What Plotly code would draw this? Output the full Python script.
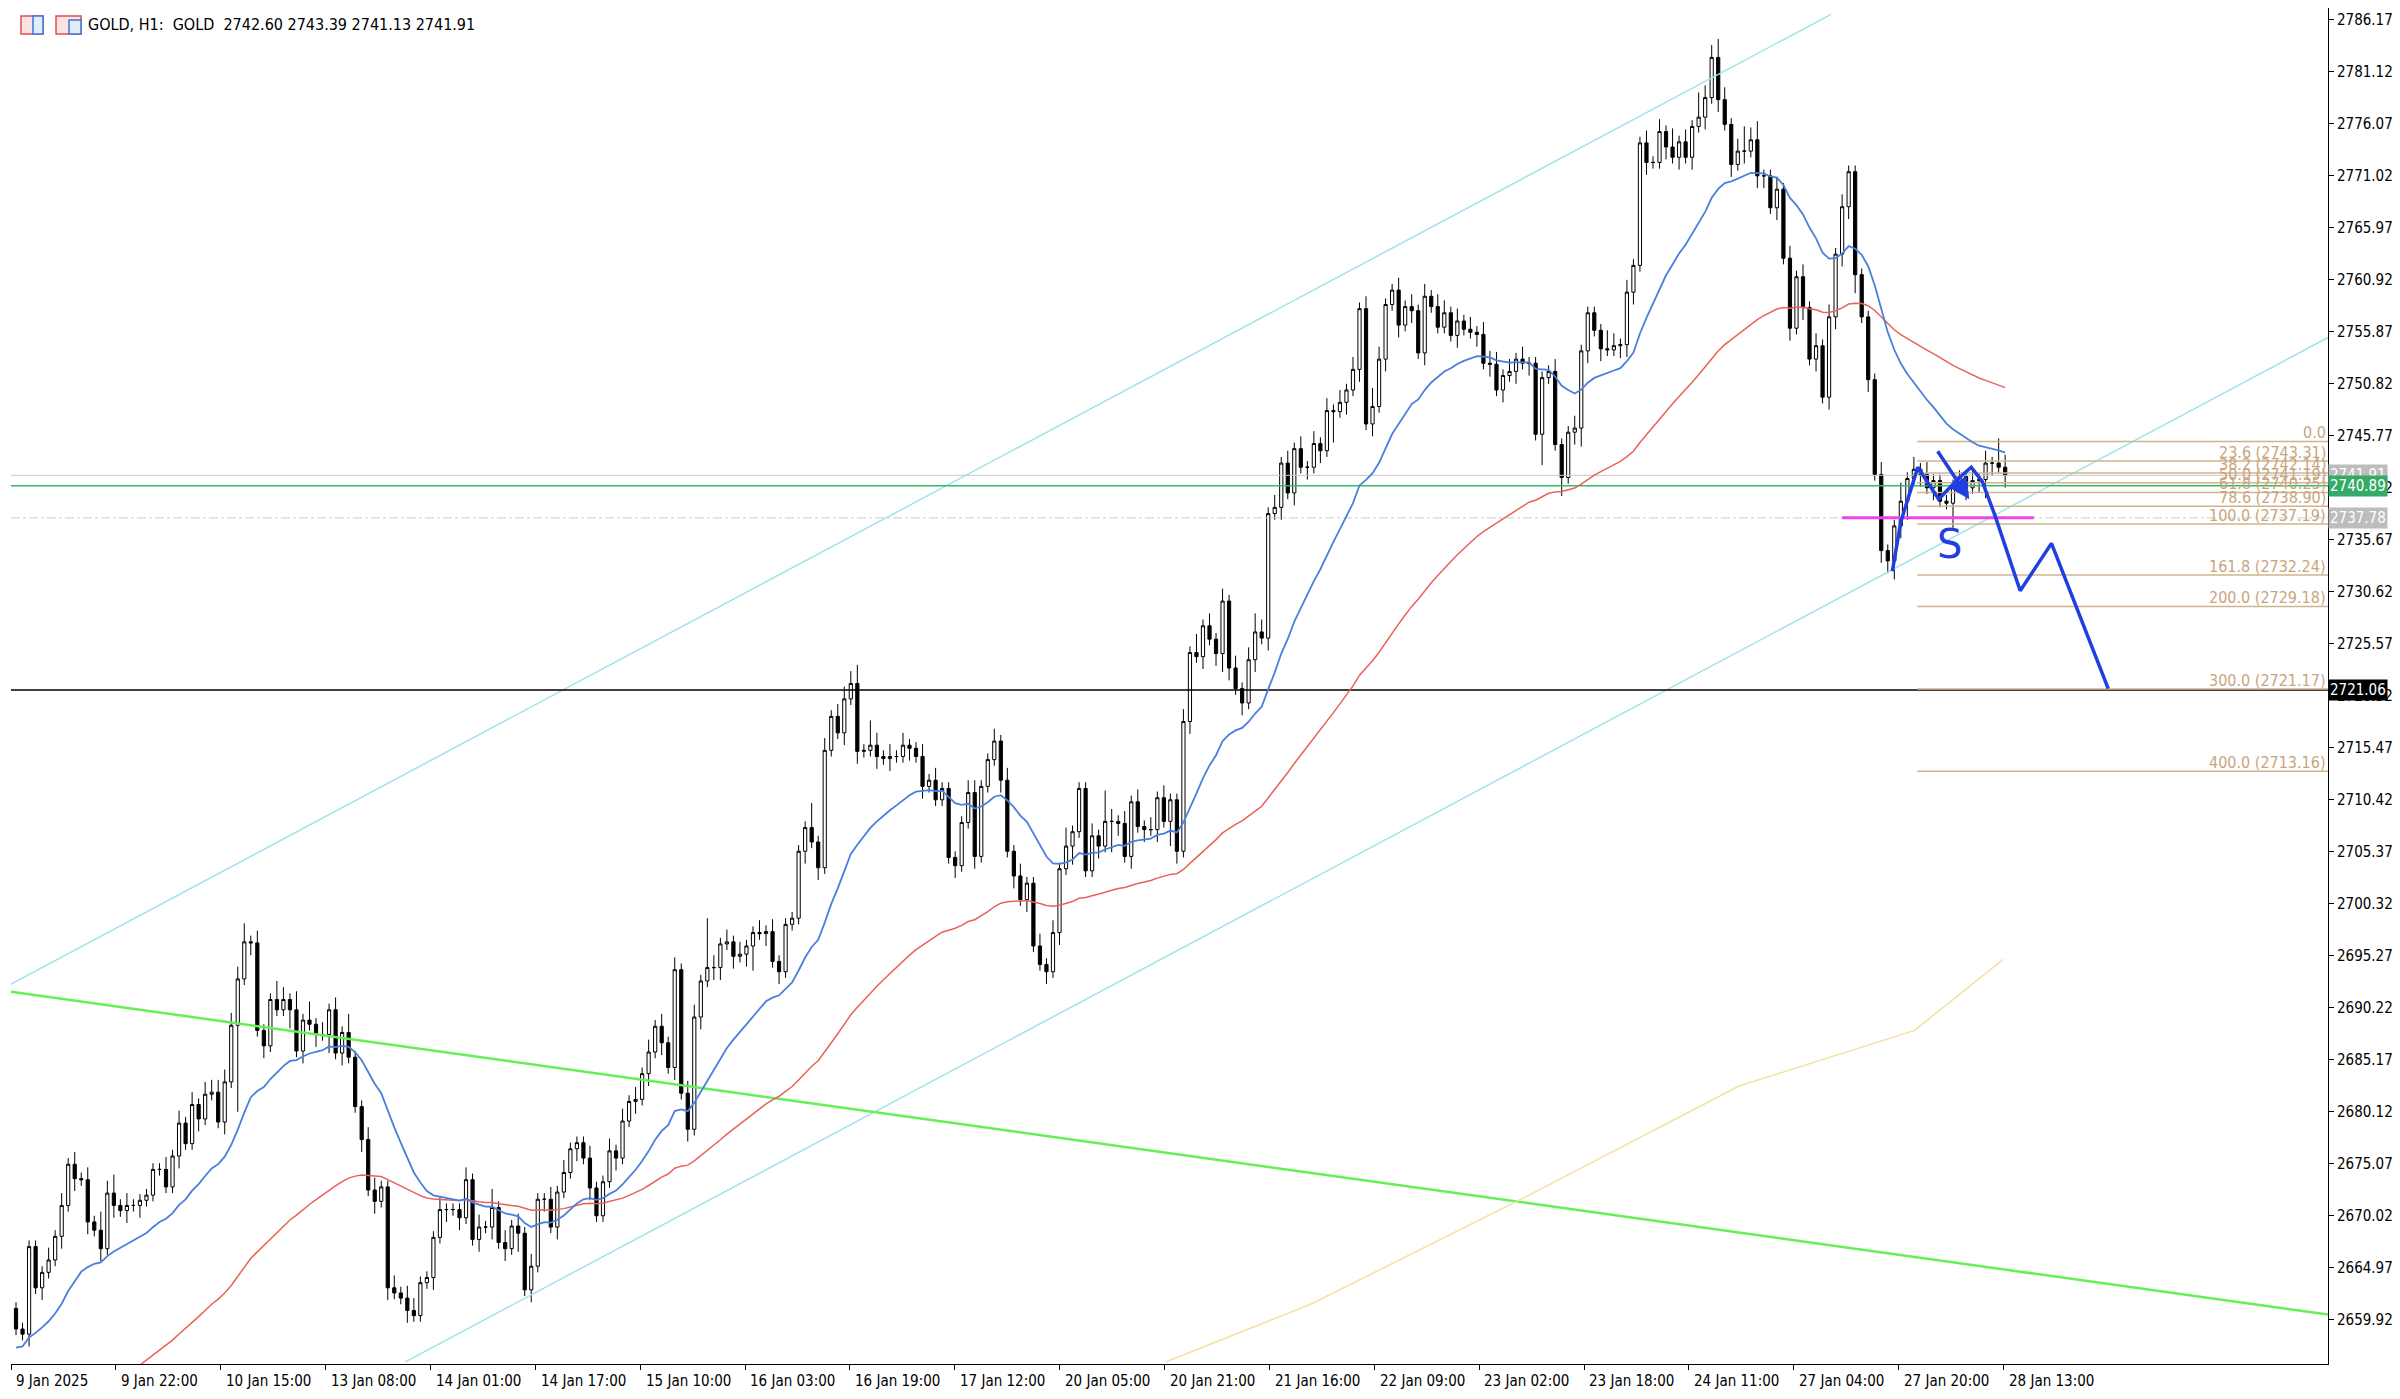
import plotly.graph_objects as go

# ---------------- data ----------------
closes = [
 # 9-13 Jan
 2659, 2658.5, 2667, 2663, 2664.5, 2665.7, 2668, 2671, 2675, 2673.6, 2673.5, 2669.4, 2668.6, 2666.8, 2672.2, 2671,
 2670.5, 2671, 2671, 2671.5, 2672, 2674.5, 2674.5, 2672.8, 2675.8, 2679, 2677, 2680.8, 2679.4, 2681.8, 2682, 2679.1,
 2683, 2688.5, 2693, 2696.6, 2696.5, 2688, 2686.5, 2691, 2690, 2691, 2690, 2686, 2689, 2688.6, 2687.6, 2687.6,
 2690, 2685.8, 2687.8, 2685.4, 2680.6, 2677.4, 2672.5, 2671.4, 2672.8, 2663, 2662.5, 2662, 2660.8, 2660.3, 2663.5, 2664,
 # 13-16 Jan
 2667.9, 2670.6, 2670.6, 2670.6, 2669.8, 2673.5, 2667.7, 2668.9, 2668.9, 2670.8, 2667.4, 2666.8, 2669, 2668.3, 2662.8, 2665.1,
 2671.6, 2671.6, 2668.9, 2672.3, 2674.2, 2676.5, 2677.1, 2675.6, 2672.7, 2670, 2673.3, 2676.3, 2675.6, 2679.2, 2681.1, 2681.3,
 2683.8, 2685.9, 2688.4, 2686.8, 2684.4, 2693.9, 2681.9, 2678.4, 2689.3, 2692.8, 2694.1, 2694.1, 2696.4, 2696.6, 2695.2, 2695.4,
 2696.2, 2697.5, 2697.4, 2697.6, 2694.7, 2693.7, 2698.3, 2698.9, 2705.4, 2707.7, 2706.3, 2703.8,
 # 16-20 Jan
 2715.2, 2718.5, 2716.9, 2720.2, 2721.7, 2715.1, 2715.2, 2715.7, 2714.6, 2714.4, 2714.6, 2714.6, 2715.7, 2715.4, 2714.6, 2711.7,
 2712.3, 2710.4, 2711.5, 2704.8, 2704, 2708.2, 2711.1, 2704.9, 2711.7, 2714.3, 2716.1, 2712.3, 2705.4, 2703, 2700.7, 2702.3,
 2696.2, 2694.4, 2693.7, 2697.5, 2703.7, 2705.9, 2707.3, 2711.5, 2703.5, 2706.9, 2705.9, 2708.3, 2708.3, 2708.1, 2704.9, 2710.2,
 2707.8, 2707.5, 2707.5, 2710.6, 2708.3, 2710.4, 2705.4, 2718, 2724.7, 2724.3, 2727.3, 2726, 2724.6,
 # 21-24 Jan
 2729.7, 2723.2, 2721.2, 2719.8, 2724, 2726.7, 2726.1, 2738.2, 2738.8, 2743.1, 2740.2, 2744.5, 2742.7, 2742.7, 2745, 2744.3,
 2748.2, 2748.1, 2749, 2750.2, 2752.2, 2758.1, 2746.9, 2748.6, 2753.2, 2758.5, 2759.9, 2756.5, 2758.3, 2757.9, 2753.8, 2759.3,
 2758.3, 2756.3, 2757.7, 2755.5, 2756.9, 2756.1, 2755.8, 2755.6, 2752.8, 2752.7, 2750.2, 2751.6, 2752, 2753.2, 2752.8, 2752.8,
 2745.9, 2751.4, 2752, 2744.9, 2741.7, 2746.1, 2746.5, 2754, 2757.7, 2756, 2754.2, 2754.1, 2754.5, 2754.6, 2759.7,
 # 24-28 Jan
 2762.3, 2774.2, 2772.3, 2772.3, 2775.3, 2773.8, 2772.8, 2774.3, 2772.8, 2775.8, 2776.7, 2778.6, 2782.5, 2778.4, 2776, 2772.1,
 2773.4, 2773.4, 2774.5, 2771, 2771, 2767.9, 2769.7, 2763, 2756.2, 2761.2, 2758.2, 2753.2, 2754.5, 2749.5, 2757.3, 2763.4,
 2768, 2771.4, 2761.4, 2757.3, 2751.2, 2742, 2734.6, 2733.6, 2737, 2739.4, 2741.6, 2742.5, 2742, 2740.7, 2741.4, 2739.4,
 2739.2, 2740.9, 2741.8, 2740.7, 2741.4, 2741.5, 2743.1, 2743.1, 2742.7, 2741.91,
]
first_open = 2661.0
# wick lengths in dollars, one base-36 digit per bar (upper / lower)
wick_up = ("1111121212121323121111121212122222231211321313121213112211212211"
           "121112121312121211212111211212121212121221821212112121111141212"
           "223142121211212111122112121211212131112152121212121121312121212"
           "321212121212121212321121212122121212221212111121121111321211212"
           "131214223212423112121212121211111211312121111112121421332121")
wick_dn = ("1121211212121212121211111211211121e121211131212131211212121121112"
           "121211212121312121211212111211212121212121221212412121112121112"
           "121121211212111121121112121211212131112152121212142121212321212"
           "121212121215121212121212121111211212121212151131232121122212112"
           "121212121212122121212121222231212232312121141212321212124121")

yellow_bars = [176.3, 198.5, 231.4, 264.2, 291.1, 304.7]
yellow_vals = [2655.8, 2661.4, 2671.8, 2682.6, 2688.0, 2694.9]

fib_pct = [0.0, 23.6, 38.2, 50.0, 61.8, 78.6, 100.0, 161.8, 200.0, 300.0, 400.0]
fib_top, fib_bottom = 2745.20, 2737.19

draw_bars = [287.7, 289.0, 291.6, 294.8, 298.0, 299.8, 301.5, 303.5, 307.3, 312.1, 320.8]
draw_vals = [2732.6, 2737.4, 2742.7, 2739.6, 2741.7, 2742.7, 2741.3, 2737.9, 2730.7, 2735.3, 2721.2]
arrow_bars = [294.5, 299.5]
arrow_vals = [2744.4, 2739.6]

tick_labels = ["9 Jan 2025", "9 Jan 22:00", "10 Jan 15:00", "13 Jan 08:00", "14 Jan 01:00", "14 Jan 17:00",
               "15 Jan 10:00", "16 Jan 03:00", "16 Jan 19:00", "17 Jan 12:00", "20 Jan 05:00", "20 Jan 21:00",
               "21 Jan 16:00", "22 Jan 09:00", "23 Jan 02:00", "23 Jan 18:00", "24 Jan 11:00", "27 Jan 04:00",
               "27 Jan 20:00", "28 Jan 13:00"]
y_ticks = [2786.17, 2781.12, 2776.07, 2771.02, 2765.97, 2760.92, 2755.87, 2750.82, 2745.77, 2740.72, 2735.67,
           2730.62, 2725.57, 2720.52, 2715.47, 2710.42, 2705.37, 2700.32, 2695.27, 2690.22, 2685.17, 2680.12,
           2675.07, 2670.02, 2664.97, 2659.92]

# ---------------- build ----------------
n = len(closes)
opens = [first_open] + closes[:-1]
def digits(s, i):
    return int(s[i], 36) if i < len(s) else 1
highs = [max(o, c) + 0.6 * digits(wick_up, i) for i, (o, c) in enumerate(zip(opens, closes))]
lows = [min(o, c) - 0.6 * digits(wick_dn, i) for i, (o, c) in enumerate(zip(opens, closes))]
x = list(range(n))

def ema(vals, period, seed):
    a = 2 / (period + 1); e = seed; out = []
    for v in vals:
        e += a * (v - e); out.append(e)
    return out
blue_ma = ema(closes, 21, 2657)
red_ma = ema(closes, 70, 2645)

X0, X1 = -0.77, 354.5
Y0, Y1 = 2655.6, 2787.3

fig = go.Figure()
line_of = lambda xs, ys, col, w, dash="solid": go.Scatter(x=xs, y=ys, mode="lines",
                    line=dict(color=col, width=w, dash=dash), hoverinfo="skip", showlegend=False)
slope = 0.3375
fig.add_trace(line_of([X0, 278.3], [2692.5, 2692.5 + slope * (278.3 - X0)], "#9fe3ea", 1.5))
fig.add_trace(line_of([59.7, X1], [2655.8, 2655.8 + slope * (X1 - 59.7)], "#9fe3ea", 1.5))
fig.add_trace(line_of([X0, X1], [2691.75, 2660.4], "#66ee55", 2.5))
fig.add_trace(line_of([X0, X1], [2721.06, 2721.06], "#000000", 1.5))
fig.add_trace(line_of([X0, X1], [2741.91, 2741.91], "#c8c8c8", 1))
fig.add_trace(line_of([X0, X1], [2740.89, 2740.89], "#33bb66", 1.5))
fig.add_trace(line_of([X0, X1], [2737.78, 2737.78], "#cccccc", 1, "dashdot"))
for p in fib_pct:
    v = fib_top - (fib_top - fib_bottom) * p / 100
    fig.add_trace(line_of([291.5, X1], [v, v], "#d2b48c", 1.5))
    txt = "0.0" if p == 0 else f"{p:.1f} ({v:.2f})"
    fig.add_annotation(x=X1, y=v, text=txt, xanchor="right", yanchor="bottom", showarrow=False,
                       font=dict(size=16, color="#c8a57e", family="DejaVu Sans Condensed"), yshift=-3)
fig.add_trace(line_of(yellow_bars, yellow_vals, "#f3e1a0", 1.5))
fig.add_trace(line_of(x, red_ma, "#e8625a", 1.5))
fig.add_trace(line_of(x, blue_ma, "#4a7fdc", 1.8))
fig.add_trace(go.Candlestick(x=x, open=opens, high=highs, low=lows, close=closes,
    increasing=dict(line=dict(color="#000000", width=1), fillcolor="#ffffff"),
    decreasing=dict(line=dict(color="#000000", width=1), fillcolor="#000000"),
    whiskerwidth=0, showlegend=False, hoverinfo="skip"))
fig.add_trace(line_of([280, 309.4], [2737.8, 2737.8], "#ee44ee", 3))
fig.add_trace(line_of(draw_bars, draw_vals, "#1f3fe0", 3.5))
fig.add_annotation(x=arrow_bars[1], y=arrow_vals[1], ax=arrow_bars[0], ay=arrow_vals[0], xref="x", yref="y",
                   axref="x", ayref="y", showarrow=True, arrowhead=2, arrowsize=1.2, arrowwidth=3.5,
                   arrowcolor="#1f3fe0", text="")
fig.add_annotation(x=296.5, y=2735.2, text="S", showarrow=False,
                   font=dict(size=40, color="#1f3fe0", family="DejaVu Sans"))

for v, bg, fg in [(2741.91, "#bdbdbd", "#ffffff"), (2740.89, "#33aa66", "#ffffff"),
                  (2737.78, "#bdbdbd", "#ffffff"), (2721.06, "#000000", "#ffffff")]:
    fig.add_annotation(x=1.0, xref="paper", y=v, text=f"{v:.2f}", xanchor="left", showarrow=False,
                       bgcolor=bg, font=dict(size=15, color=fg, family="DejaVu Sans Condensed"), borderpad=1)
for k, t in enumerate(tick_labels):
    fig.add_annotation(x=(105 * k - 5) / 6.53 + 0.5, y=0, yref="paper", text=t, xanchor="left", yanchor="top",
                       yshift=-6, showarrow=False,
                       font=dict(size=15, color="#000000", family="DejaVu Sans Condensed"))
fig.add_annotation(x=75 / 2317, xref="paper", y=1, yref="paper", xanchor="left", yanchor="top", yshift=-5,
                   text="GOLD, H1:  GOLD  2742.60 2743.39 2741.13 2741.91", showarrow=False,
                   font=dict(size=16, color="#000000", family="DejaVu Sans Condensed"))
for x0, x1, col in [(10, 32, "#e05050"), (45, 70, "#e05050")]:
    fig.add_shape(type="rect", xref="paper", yref="paper", x0=x0 / 2317, x1=x1 / 2317,
                  y0=1 - 26 / 1356, y1=1 - 8 / 1356, line=dict(color=col, width=1.5), fillcolor="#fbe3e3")
fig.add_shape(type="rect", xref="paper", yref="paper", x0=22 / 2317, x1=32 / 2317,
              y0=1 - 26 / 1356, y1=1 - 8 / 1356, line=dict(color="#3a78d8", width=1.5), fillcolor="#e3ecfb")
fig.add_shape(type="rect", xref="paper", yref="paper", x0=58 / 2317, x1=70 / 2317,
              y0=1 - 26 / 1356, y1=1 - 12 / 1356, line=dict(color="#3a78d8", width=1.5), fillcolor="#e3ecfb")

fig.update_layout(width=2400, height=1399, margin=dict(l=3, r=80, t=0, b=43),
                  plot_bgcolor="#ffffff", paper_bgcolor="#ffffff")
fig.update_xaxes(range=[X0, X1], showgrid=False, zeroline=False, rangeslider_visible=False,
                 tickvals=[(105 * k - 5) / 6.53 for k in range(len(tick_labels))], ticktext=[""] * len(tick_labels),
                 ticks="outside", ticklen=5, tickcolor="#000", showline=True, linecolor="#000", mirror=False)
fig.update_yaxes(range=[Y0, Y1], side="right", showgrid=False, zeroline=False, tickvals=y_ticks,
                 ticktext=[f"{v:.2f}" for v in y_ticks], ticks="outside", ticklen=5, tickcolor="#000",
                 showline=True, linecolor="#000",
                 tickfont=dict(size=15, color="#000", family="DejaVu Sans Condensed"))
fig.write_html("out.html")
